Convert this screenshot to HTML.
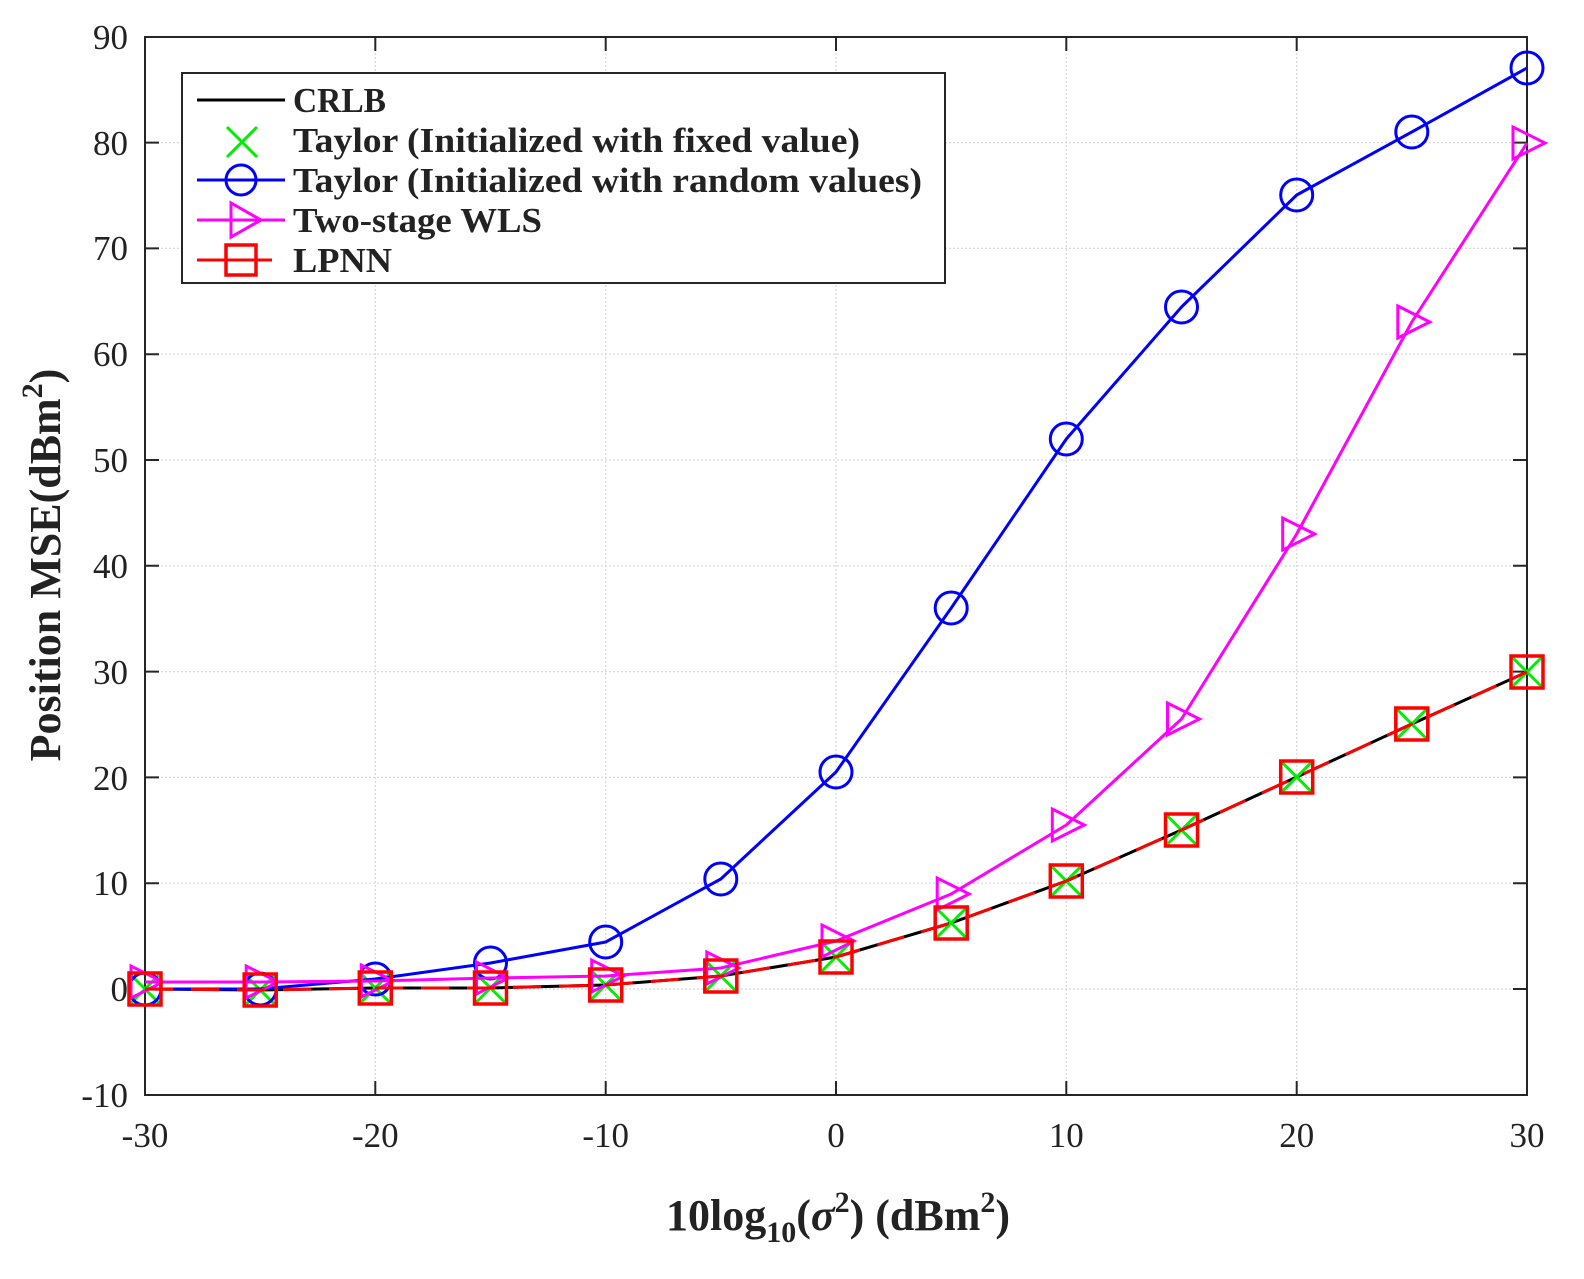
<!DOCTYPE html>
<html><head><meta charset="utf-8"><style>
html,body{margin:0;padding:0;background:#fff;overflow:hidden;width:1584px;height:1279px}
svg{display:block}
text{font-family:"Liberation Serif",serif;fill:#222}
</style></head><body>
<svg width="1584" height="1279" viewBox="0 0 1584 1279" xmlns="http://www.w3.org/2000/svg">
<defs>
<marker id="mc" markerUnits="userSpaceOnUse" markerWidth="40" markerHeight="40" refX="20" refY="20" overflow="visible"><circle cx="20" cy="20" r="16" fill="none" stroke="#0000ff" stroke-width="3"/></marker>
<marker id="mt" markerUnits="userSpaceOnUse" markerWidth="40" markerHeight="40" refX="20" refY="20" overflow="visible"><polygon points="6,4 6,36 38,20" fill="none" stroke="#ff00ff" stroke-width="3"/></marker>
<marker id="ms" markerUnits="userSpaceOnUse" markerWidth="40" markerHeight="40" refX="20" refY="20" overflow="visible"><rect x="4" y="4" width="32" height="32" fill="none" stroke="#ff0000" stroke-width="3.5"/></marker>
<marker id="mx" markerUnits="userSpaceOnUse" markerWidth="40" markerHeight="40" refX="20" refY="20" overflow="visible"><path d="M6,6 L34,34 M34,6 L6,34" stroke="#00ee00" stroke-width="3"/></marker>
</defs>
<rect x="145" y="37" width="1382" height="1058" fill="#fff"/>
<g stroke="#d8d8d8" stroke-width="1.2" stroke-dasharray="2,2">
<line x1="375.3" y1="37" x2="375.3" y2="1095"/><line x1="605.7" y1="37" x2="605.7" y2="1095"/><line x1="836" y1="37" x2="836" y2="1095"/><line x1="1066.3" y1="37" x2="1066.3" y2="1095"/><line x1="1296.7" y1="37" x2="1296.7" y2="1095"/>
<line x1="145" y1="989" x2="1527" y2="989"/><line x1="145" y1="883.2" x2="1527" y2="883.2"/><line x1="145" y1="777.4" x2="1527" y2="777.4"/><line x1="145" y1="671.6" x2="1527" y2="671.6"/><line x1="145" y1="565.8" x2="1527" y2="565.8"/><line x1="145" y1="460" x2="1527" y2="460"/><line x1="145" y1="354.2" x2="1527" y2="354.2"/><line x1="145" y1="248.4" x2="1527" y2="248.4"/><line x1="145" y1="142.6" x2="1527" y2="142.6"/>
</g>
<g stroke="#262626" stroke-width="2">
<rect x="145" y="37" width="1382" height="1058" fill="none"/>
<path d="M375.3,1095v-14M605.7,1095v-14M836,1095v-14M1066.3,1095v-14M1296.7,1095v-14M375.3,37v14M605.7,37v14M836,37v14M1066.3,37v14M1296.7,37v14"/>
<path d="M145,989h14M145,883.2h14M145,777.4h14M145,671.6h14M145,565.8h14M145,460h14M145,354.2h14M145,248.4h14M145,142.6h14M1527,989h-14M1527,883.2h-14M1527,777.4h-14M1527,671.6h-14M1527,565.8h-14M1527,460h-14M1527,354.2h-14M1527,248.4h-14M1527,142.6h-14"/>
</g>
<g font-size="35" text-anchor="end">
<text x="128" y="49">90</text><text x="128" y="155">80</text><text x="128" y="260">70</text><text x="128" y="366">60</text><text x="128" y="472">50</text><text x="128" y="578">40</text><text x="128" y="684">30</text><text x="128" y="790">20</text><text x="128" y="895">10</text><text x="128" y="1001">0</text><text x="128" y="1107">-10</text>
</g>
<g font-size="35" text-anchor="middle">
<text x="145" y="1147">-30</text><text x="375.3" y="1147">-20</text><text x="605.7" y="1147">-10</text><text x="836" y="1147">0</text><text x="1066.3" y="1147">10</text><text x="1296.7" y="1147">20</text><text x="1527" y="1147">30</text>
</g>
<text x="838" y="1230" font-size="44" font-weight="bold" text-anchor="middle">10log<tspan font-size="30" dy="12">10</tspan><tspan dy="-12">(</tspan><tspan font-style="italic">σ</tspan><tspan font-size="30" dy="-18">2</tspan><tspan dy="18">) (dBm</tspan><tspan font-size="30" dy="-18">2</tspan><tspan dy="18">)</tspan></text>
<text transform="translate(60,565) rotate(-90)" font-size="44" font-weight="bold" text-anchor="middle">Position MSE(dBm<tspan font-size="30" dy="-18">2</tspan><tspan dy="18">)</tspan></text>
<g fill="none" stroke-linejoin="round">
<polyline stroke="#000" stroke-width="3" points="145,989 260.2,990 375.3,988 490.5,988 605.7,985 720.8,976 836,957 951.2,923 1066.3,881 1181.5,830 1296.7,777 1411.8,724 1527,672"/>
<polyline stroke="none" marker-start="url(#mx)" marker-mid="url(#mx)" marker-end="url(#mx)" points="145,989 260.2,990 375.3,988 490.5,988 605.7,985 720.8,976 836,957 951.2,923 1066.3,881 1181.5,830 1296.7,777 1411.8,724 1527,672"/>
<polyline stroke="#0000ff" stroke-width="3" marker-start="url(#mc)" marker-mid="url(#mc)" marker-end="url(#mc)" points="145,989 260.2,989 375.3,979 490.5,963 605.7,942 720.8,879 836,772 951.2,608 1066.3,439 1181.5,307 1296.7,195 1411.8,132 1527,68"/>
<polyline stroke="#ff00ff" stroke-width="3" marker-start="url(#mt)" marker-mid="url(#mt)" marker-end="url(#mt)" points="145,982 260.2,982 375.3,981 490.5,978 605.7,976 720.8,968 836,941 951.2,894 1066.3,825 1181.5,719 1296.7,534 1411.8,322 1527,143"/>
<polyline stroke="#ff0000" stroke-width="3" stroke-dasharray="28,18" marker-start="url(#ms)" marker-mid="url(#ms)" marker-end="url(#ms)" points="145,989 260.2,990 375.3,988 490.5,988 605.7,985 720.8,976 836,957 951.2,923 1066.3,881 1181.5,830 1296.7,777 1411.8,724 1527,672"/>
</g>
<rect x="182" y="73" width="763" height="210" fill="#fff" stroke="#262626" stroke-width="2"/>
<g fill="none" stroke-width="3">
<line x1="197" y1="100" x2="285" y2="100" stroke="#000"/>
<path d="M227,127 L257,157 M257,127 L227,157" stroke="#00ee00"/>
<line x1="197" y1="180" x2="285" y2="180" stroke="#0000ff"/><circle cx="241" cy="180" r="15" stroke="#0000ff"/>
<line x1="197" y1="220" x2="285" y2="220" stroke="#ff00ff"/><polygon points="231,203 231,237 261,220" stroke="#ff00ff"/>
<line x1="197" y1="260" x2="272" y2="260" stroke="#ff0000"/><rect x="226" y="245" width="30" height="30" stroke="#ff0000" stroke-width="3.5"/>
</g>
<g font-size="35" font-weight="bold">
<text x="293" y="112" fill="#000" textLength="93" lengthAdjust="spacingAndGlyphs">CRLB</text>
<text x="293" y="152" fill="#000" textLength="567" lengthAdjust="spacingAndGlyphs">Taylor (Initialized with fixed value)</text>
<text x="293" y="192" fill="#000" textLength="629" lengthAdjust="spacingAndGlyphs">Taylor (Initialized with random values)</text>
<text x="293" y="232" fill="#000" textLength="249" lengthAdjust="spacingAndGlyphs">Two-stage WLS</text>
<text x="293" y="272" fill="#000" textLength="99" lengthAdjust="spacingAndGlyphs">LPNN</text>
</g>
</svg>
</body></html>
